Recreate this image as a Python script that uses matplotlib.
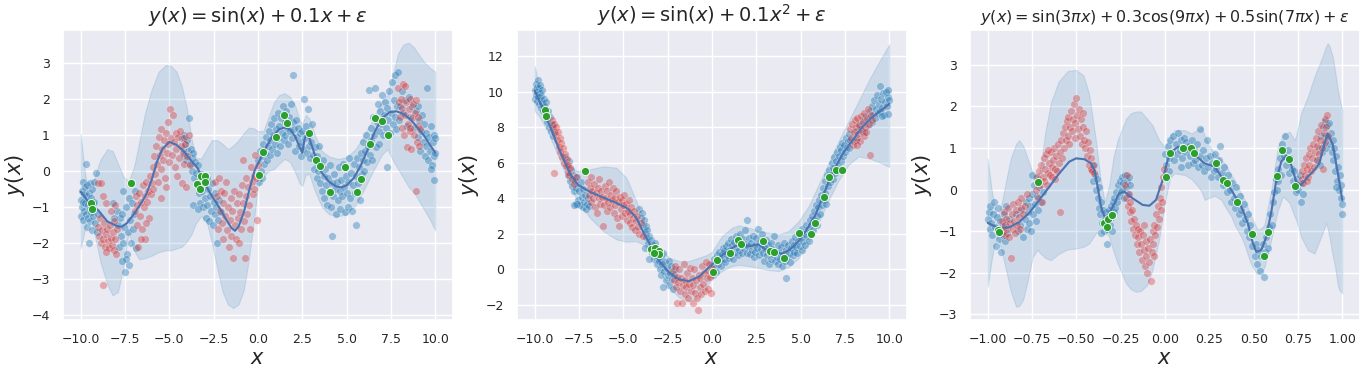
import numpy as np
import matplotlib
matplotlib.use("Agg")
import matplotlib.pyplot as plt
from matplotlib.ticker import MultipleLocator
import seaborn as sns

sns.set_theme(style="darkgrid")
plt.rcParams['font.family'] = ['DejaVu Sans']
plt.rcParams['mathtext.fontset'] = 'dejavusans'

# ---------------- Panel 1 : sin(x) + 0.1x ----------------
p1_title = r"$y(x) = \sin(x) + 0.1x + \epsilon$"
p1_mean = [(-10, -0.58), (-9.5, -0.9), (-9, -1.1), (-8.5, -1.4), (-8, -1.52), (-7.7, -1.55), (-7.4, -1.45),
           (-7.0, -1.2), (-6.6, -0.9), (-6.3, -0.65), (-6.0, -0.25), (-5.7, 0.25), (-5.4, 0.6), (-5.0, 0.8),
           (-4.6, 0.72), (-4.2, 0.55), (-3.8, 0.3), (-3.4, 0.07), (-3.0, -0.35), (-2.6, -0.7), (-2.2, -1.0),
           (-1.8, -1.35), (-1.5, -1.58), (-1.3, -1.66), (-1.1, -1.55), (-0.8, -1.15), (-0.5, -0.55), (-0.2, 0.0),
           (0.1, 0.3), (0.4, 0.6), (0.8, 0.95), (1.2, 1.15), (1.5, 1.2), (1.8, 1.15), (2.1, 0.95), (2.35, 0.65),
           (2.5, 0.5), (2.62, 0.85), (2.75, 1.08), (2.9, 0.9), (3.2, 0.45), (3.6, -0.05), (4.0, -0.3), (4.4, -0.43),
           (4.7, -0.46), (5.0, -0.4), (5.4, -0.2), (5.8, 0.15), (6.2, 0.6), (6.6, 1.1), (7.0, 1.45), (7.4, 1.62),
           (7.8, 1.65), (8.2, 1.58), (8.6, 1.42), (9.0, 1.2), (9.4, 0.95), (9.7, 0.72), (10, 0.5)]
p1_band = [(-10, -2.15, 1.02), (-9.8, -1.7, 0.1), (-9.6, -1.25, -0.55), (-9.45, -1.15, -0.75), (-9.2, -1.8, -0.15),
           (-8.9, -2.5, 0.3), (-8.5, -3.15, 0.6), (-8.2, -3.45, 0.55), (-7.9, -3.35, 0.2), (-7.6, -2.7, -0.15),
           (-7.3, -1.7, -0.3), (-7.0, -2.2, 0.1), (-6.7, -2.45, 0.8), (-6.4, -2.42, 1.55), (-6.0, -2.35, 2.25),
           (-5.6, -2.25, 2.75), (-5.2, -2.2, 2.93), (-4.9, -2.2, 2.9), (-4.6, -2.15, 2.75), (-4.3, -2.1, 2.35),
           (-4.0, -1.95, 1.7), (-3.75, -1.75, 0.9), (-3.5, -1.45, 0.35), (-3.2, -1.25, 0.35), (-2.9, -1.4, 0.6),
           (-2.6, -2.0, 0.85), (-2.3, -2.7, 0.85), (-2.0, -3.35, 0.75), (-1.7, -3.7, 0.6), (-1.4, -3.8, 0.7),
           (-1.1, -3.7, 0.85), (-0.8, -3.3, 1.05), (-0.5, -2.4, 1.2), (-0.25, -1.45, 1.18), (0.0, -0.45, 1.1),
           (0.3, -0.15, 1.1), (0.6, 0.0, 1.5), (0.9, 0.05, 1.9), (1.2, 0.2, 2.1), (1.5, 0.33, 2.15), (1.8, 0.25, 2.05),
           (2.1, -0.05, 1.8), (2.35, -0.35, 1.4), (2.5, -0.42, 1.3), (2.7, -0.1, 1.55), (2.9, -0.1, 1.45),
           (3.2, -0.55, 1.0), (3.6, -1.0, 0.55), (4.0, -1.2, 0.4), (4.5, -1.26, 0.33), (5.0, -1.2, 0.38),
           (5.5, -0.95, 0.6), (6.0, -0.5, 1.0), (6.5, 0.0, 1.45), (7.0, 0.45, 1.95), (7.3, 0.6, 2.1), (7.6, 0.3, 2.65),
           (7.9, 0.05, 3.25), (8.2, -0.2, 3.5), (8.5, -0.45, 3.55), (8.8, -0.6, 3.42), (9.1, -0.85, 3.2),
           (9.4, -1.1, 3.0), (9.7, -1.35, 2.85), (10, -1.65, 2.75)]
p1_blue = [(-10.0, -0.8), (-9.97, -1.25), (-9.95, -0.55), (-9.92, -1.0), (-9.9, -0.3), (-9.87, -0.85), (-9.85, -1.35),
           (-9.82, -0.65), (-9.8, -1.1), (-9.77, -0.45), (-9.75, -0.9), (-9.72, -1.2), (-9.7, 0.2), (-9.68, -0.7),
           (-9.65, -1.55), (-9.62, -0.4), (-9.6, -0.95), (-9.57, -1.3), (-9.55, -0.6), (-9.52, -2.0), (-9.5, -1.05),
           (-9.47, -0.35), (-9.45, -1.4), (-9.42, -0.75), (-9.4, -1.15), (-9.37, -0.5), (-9.35, -1.65), (-9.32, -0.9),
           (-9.3, -1.25), (-9.27, -0.3), (-9.25, -0.85), (-9.2, -1.45), (-9.15, -0.05), (-9.1, -1.7), (-9.05, -1.2),
           (-7.95, -1.1), (-7.9, -1.5), (-7.85, -2.1), (-7.8, -1.3), (-7.75, -1.8), (-7.7, -2.5), (-7.65, -1.2),
           (-7.6, -2.0), (-7.55, -1.55), (-7.5, -2.8), (-7.45, -1.0), (-7.4, -2.3), (-7.35, -1.7), (-7.3, -0.75),
           (-7.25, -2.6), (-7.2, -1.35), (-7.15, -2.0), (-7.1, -0.9), (-7.05, -1.6), (-7.0, -1.2), (-6.95, -0.55),
           (-6.9, -2.15), (-7.6, -0.55), (-7.45, -2.45), (-8.2, -0.9), (-8.1, -1.3),
           (-4.3, 0.9), (-4.25, 0.6), (-4.2, 1.0), (-4.15, 0.45), (-4.1, 0.75), (-4.05, 0.3), (-4.0, 0.85),
           (-3.95, 0.55), (-3.9, 1.45), (-3.85, 0.2), (-3.8, 0.6), (-3.75, 0.35), (-3.7, 0.0), (-3.65, 0.5),
           (-3.6, -0.2), (-3.55, 0.25), (-3.5, -0.05), (-3.45, -0.4), (-3.4, 0.15), (-3.35, -0.6), (-3.3, -0.3),
           (-3.25, -0.9), (-3.2, -0.1), (-3.15, -0.55), (-3.1, -1.0), (-3.05, -0.35), (-3.0, -0.75), (-2.95, -1.3),
           (-2.9, -0.2), (-2.85, -0.95), (-2.8, -0.5), (-2.75, -1.4), (-2.7, -0.7), (-2.65, -1.1), (-2.6, -0.35),
           (-2.55, -1.5), (-2.5, -0.85), (-2.45, -1.2), (-2.4, -0.6), (-2.35, -1.0), (-2.3, -2.0), (-2.25, -1.35),
           (-2.2, -0.8), (-2.1, -1.15), (-3.65, -0.95), (-3.4, -1.05),
           (0.0, 0.3), (0.05, -0.3), (0.1, 0.55), (0.15, 0.0), (0.2, 0.4), (0.25, -0.2), (0.3, 0.75), (0.35, 0.2),
           (0.4, 0.5), (0.45, 0.95), (0.5, 0.3), (0.55, 0.7), (0.6, 1.1), (0.65, 0.45), (0.7, 0.85), (0.75, 1.3),
           (0.8, 0.6), (0.85, 1.0), (0.9, 1.45), (0.95, 0.75), (1.0, 1.15), (1.05, 0.5), (1.1, 1.6), (1.15, 0.9),
           (1.2, 1.25), (1.25, 0.7), (1.3, 1.45), (1.35, 1.05), (1.4, 1.8), (1.45, 0.85), (1.5, 1.35), (1.55, 1.0),
           (1.6, 1.65), (1.65, 1.2), (1.7, 0.75), (1.75, 1.5), (1.8, 1.1), (1.85, 1.85), (1.9, 0.9), (1.95, 1.35),
           (2.0, 2.65), (2.05, 1.15), (2.1, 0.55), (2.15, 1.4), (2.2, 0.95), (2.25, 1.2), (2.3, 0.7), (2.35, 1.05),
           (2.4, 0.4), (2.45, 0.8), (2.5, 1.1), (2.55, 0.6), (2.6, 2.0), (2.65, 0.9), (2.7, 1.25), (2.75, 0.5),
           (2.8, 1.7), (2.85, 0.7), (2.9, 1.0), (2.95, 0.35), (3.0, 0.8), (3.05, 1.3), (3.1, 0.45), (3.15, 0.05),
           (3.2, 0.65), (3.25, 0.25), (3.3, -0.2), (3.35, 0.4), (3.4, 0.0), (3.45, 0.7), (3.5, -0.35), (3.55, 0.15),
           (3.6, -0.55), (3.65, 0.3), (3.7, -0.15), (3.75, -0.75), (3.8, 0.05), (3.85, -0.4), (3.9, -0.95),
           (3.95, -0.2), (4.0, -0.6), (4.05, 0.15), (4.1, -1.0), (4.15, -0.35), (4.2, -1.8), (4.25, -0.7), (4.3, -0.1),
           (4.35, -0.5), (4.4, -1.2), (4.45, -0.3), (4.5, -0.8), (4.55, 0.1), (4.6, -0.55), (4.65, -1.05),
           (4.7, -0.25), (4.75, -0.7), (4.8, 0.2), (4.85, -0.45), (4.9, -1.15), (4.95, -0.15), (5.0, -0.6),
           (5.05, -1.0), (5.1, -0.3), (5.15, 0.35), (5.2, -0.75), (5.25, -0.05), (5.3, -1.1), (5.35, -0.4), (5.4, 0.2),
           (5.45, -0.6), (5.5, -0.15), (5.55, -1.5), (5.6, 0.35), (5.65, -0.35), (5.7, 0.1), (5.75, -0.8), (5.8, 0.5),
           (5.85, -0.1), (5.9, 0.3), (5.95, 0.8), (6.0, 0.0), (6.05, 0.55), (6.1, 1.0), (6.15, 0.25), (6.2, 0.7),
           (6.25, 2.25), (6.3, 0.45), (6.35, 1.2), (6.4, 0.85), (6.45, 0.3), (6.5, 1.5), (6.55, 1.0), (6.6, 2.3),
           (6.65, 0.65), (6.7, 1.35), (6.75, 1.85), (6.8, 1.1), (6.85, 0.75), (6.9, 1.65), (6.95, 1.3), (7.0, 2.1),
           (7.05, 1.0), (7.1, 1.55), (7.15, 1.9), (7.2, 1.2), (7.25, 0.1), (7.3, 1.75), (7.35, 1.4), (7.4, 2.2),
           (7.45, 1.05), (7.5, 1.6), (7.55, 2.45), (7.6, 1.3), (7.65, 1.95), (7.7, 1.5), (7.75, 2.65), (7.8, 1.15),
           (7.85, 1.8), (7.9, 2.75), (7.95, 1.4),
           (8.0, 1.8), (8.1, 2.2), (8.2, 1.6), (8.3, 1.95), (8.4, 1.25), (8.5, 2.05), (8.6, 1.5), (8.7, 1.8),
           (8.8, 1.2), (8.9, 1.65), (9.0, 0.95), (9.05, 1.8), (9.1, 1.4), (9.15, 0.55), (9.2, 1.1), (9.25, 1.55),
           (9.3, 0.8), (9.35, 1.3), (9.4, 0.4), (9.45, 1.05), (9.5, 0.7), (9.55, 2.3), (9.6, 0.3), (9.65, 0.95),
           (9.7, 0.55), (9.75, 1.25), (9.8, 0.15), (9.85, 0.8), (9.9, 0.4), (9.95, 1.0), (10.0, 0.5), (9.92, -0.25),
           (9.78, 0.05), (9.98, 0.9)]
p1_red = [(-9.05, -0.35), (-9.0, -1.55), (-8.95, -1.8), (-8.9, -1.3), (-8.85, -2.0), (-8.8, -1.65), (-8.75, -3.15),
          (-8.72, -1.9), (-8.7, -1.45), (-8.65, -2.1), (-8.6, -1.75), (-8.55, -2.25), (-8.5, -1.6), (-8.45, -1.95),
          (-8.4, -2.15), (-8.35, -1.5), (-8.3, -1.85), (-8.25, -2.05), (-8.2, -1.7), (-8.15, -2.2), (-8.1, -1.4),
          (-8.05, -1.9), (-8.0, -2.3), (-7.95, -1.6), (-8.6, -0.9), (-8.3, -1.1), (-8.05, -0.95), (-8.88, -0.34),
          (-8.76, -0.7),
          (-6.95, -1.1), (-6.9, -0.7), (-6.85, -1.5), (-6.8, -0.95), (-6.75, -2.1), (-6.7, -0.6), (-6.65, -1.25),
          (-6.6, -0.85), (-6.55, -1.6), (-6.5, -0.4), (-6.45, -1.0), (-6.4, -0.7), (-6.35, -1.9), (-6.3, -0.3),
          (-6.25, -0.85), (-6.2, -0.55), (-6.15, -1.3), (-6.1, -0.15), (-6.05, -0.65), (-6.0, -0.35), (-6.6, -1.9),
          (-6.3, -1.45), (-5.95, 0.1), (-5.9, -0.5), (-5.85, 0.4), (-5.8, -0.1), (-5.75, 0.7), (-5.7, 0.2),
          (-5.65, -0.3), (-5.6, 0.95), (-5.55, 0.45), (-5.5, 0.05), (-5.45, 1.15), (-5.4, 0.6), (-5.35, 0.3),
          (-5.3, 0.85), (-5.25, -0.2), (-5.2, 1.05), (-5.15, 0.5), (-5.1, 0.75), (-5.05, 1.35), (-5.0, 0.25),
          (-5.5, -0.75), (-5.2, -0.45), (-4.95, 1.7), (-4.9, 0.9), (-4.85, 0.45), (-4.8, 1.55), (-4.75, 0.8),
          (-4.7, 0.1), (-4.65, 1.05), (-4.6, 0.6), (-4.55, -0.15), (-4.5, 0.95), (-4.45, 0.35), (-4.4, 1.1),
          (-4.35, 0.7), (-4.3, -0.35), (-4.25, 0.5), (-4.2, 0.9), (-4.15, 0.2), (-4.1, 0.75), (-4.05, -0.45),
          (-4.0, 0.4), (-3.9, 1.0), (-3.85, 0.15),
          (-2.4, -0.3), (-2.3, -0.7), (-2.25, -1.6), (-2.2, -0.2), (-2.15, -1.1), (-2.1, -0.55), (-2.05, -1.45),
          (-2.0, -0.9), (-1.95, -1.9), (-1.9, -0.6), (-1.85, -1.25), (-1.8, -0.3), (-1.75, -1.65), (-1.7, -1.0),
          (-1.65, -2.1), (-1.6, -1.35), (-1.55, -0.75), (-1.5, -1.8), (-1.45, -1.1), (-1.4, -2.4), (-1.35, -0.55),
          (-1.3, -1.5), (-1.25, -1.9), (-1.2, -0.9), (-1.15, -1.3), (-1.1, -2.0), (-1.05, -0.65), (-1.0, -1.15),
          (-0.95, -1.6), (-0.9, -0.4), (-0.85, -0.9), (-0.8, -1.4), (-0.75, -2.4), (-0.7, -0.2), (-0.65, -0.7),
          (-0.6, -1.2), (-0.55, -0.45), (-0.5, -0.95), (-0.45, -1.6), (-0.4, 0.1), (-0.35, -0.3), (-0.3, -0.65),
          (-0.25, -0.15), (-0.2, -0.5), (-0.15, 0.45), (-0.1, -0.2), (-0.05, -1.35), (-0.02, 0.15), (-0.85, 0.3),
          (7.9, 2.3), (7.95, 1.9), (8.0, 1.5), (8.05, 2.0), (8.1, 1.2), (8.15, 1.75), (8.2, 2.4), (8.25, 1.0),
          (8.3, 1.55), (8.35, 1.9), (8.4, 0.65), (8.45, 1.3), (8.5, 1.7), (8.55, 1.1), (8.6, 2.0), (8.65, 0.6),
          (8.7, 1.45), (8.75, 1.85), (8.8, 1.0), (8.85, 1.6), (8.9, 1.95), (8.95, 0.8), (9.0, 1.25), (9.05, 1.5),
          (9.1, 0.7), (9.15, 1.15), (8.9, -0.55), (8.3, 2.35), (8.6, 1.2)]

# training points (shared x in panels 1 and 2, x/10 in panel 3)
train_x = [-9.44, -9.34, -7.18, -3.43, -3.24, -3.01, -2.98, -3.28, 0.05, 0.29, 0.99, 1.49, 1.61, 2.85, 3.26,
           3.48, 4.05, 4.93, 5.59, 5.83, 6.30, 6.62, 7.01, 7.31]
p1_train_y = [-0.88, -1.05, -0.35, -0.36, -0.15, -0.15, -0.30, -0.49, -0.12, 0.53, 0.94, 1.56, 1.33, 1.05, 0.29,
              0.13, -0.59, 0.10, -0.58, -0.22, 0.75, 1.45, 1.37, 0.98]

# ---------------- Panel 2 : sin(x) + 0.1x^2 ----------------
p2_title = r"$y(x) = \sin(x) + 0.1x^2 + \epsilon$"
p2_mean = [(-10, 10.07), (-9.5, 8.9), (-9.1, 7.95), (-8.6, 6.7), (-8.0, 5.35), (-7.55, 4.75), (-6.9, 4.37),
           (-6.1, 4.03), (-5.4, 3.75), (-4.8, 3.45), (-4.3, 2.95), (-3.9, 2.16), (-3.5, 1.4), (-3.0, 0.5),
           (-2.4, -0.19), (-1.85, -0.56), (-1.3, -0.66), (-0.7, -0.38), (-0.25, 0.05), (0.25, 0.5), (0.75, 0.94),
           (1.3, 1.31), (1.7, 1.44), (2.1, 1.3), (2.6, 1.41), (3.0, 1.15), (3.55, 0.99), (3.95, 0.88), (4.4, 1.12),
           (4.9, 1.6), (5.35, 2.25), (5.85, 3.1), (6.3, 4.22), (6.8, 5.44), (7.35, 6.47), (7.9, 7.22), (8.45, 7.97),
           (9.0, 8.54), (9.5, 8.91), (10, 9.3)]
p2_band = [(-10, 8.91, 11.44), (-9.7, 8.54, 10.04), (-9.3, 7.79, 8.72), (-8.76, 6.57, 7.22), (-8.2, 5.16, 6.1),
           (-7.64, 3.94, 5.53), (-6.89, 2.91, 5.63), (-6.14, 2.16, 5.8), (-5.39, 1.69, 5.72), (-4.83, 1.56, 5.16),
           (-4.27, 1.59, 3.85), (-3.9, 1.41, 2.91), (-3.52, 1.03, 1.78), (-2.96, -0.09, 1.22), (-2.4, -1.03, 0.66),
           (-1.84, -1.59, 0.47), (-1.3, -1.78, 0.47), (-0.75, -1.59, 0.66), (-0.3, -1.03, 0.81), (0.0, -0.45, 1.0),
           (0.56, -0.09, 1.88), (1.13, 0.19, 2.35), (1.5, 0.26, 2.48), (2.07, 0.19, 2.35), (2.63, 0.08, 2.16),
           (3.2, -0.03, 2.06), (3.76, -0.09, 1.97), (4.32, 0.12, 2.16), (4.89, 0.65, 2.72), (5.45, 1.5, 3.56),
           (6.02, 2.65, 4.78), (6.58, 3.9, 6.0), (7.14, 5.0, 7.22), (7.71, 5.9, 8.35), (8.27, 6.35, 9.47),
           (8.83, 6.25, 10.6), (9.4, 6.05, 11.63), (10, 5.76, 12.66)]
p2_blue = [(-10.0, 10.1), (-9.97, 9.6), (-9.95, 10.4), (-9.92, 9.8), (-9.9, 10.25), (-9.87, 9.45), (-9.85, 10.0),
           (-9.82, 10.65), (-9.8, 9.7), (-9.77, 10.2), (-9.75, 9.3), (-9.72, 9.9), (-9.7, 10.35), (-9.67, 9.5),
           (-9.65, 9.1), (-9.62, 9.75), (-9.6, 10.1), (-9.57, 9.35), (-9.55, 8.9), (-9.5, 9.6), (-9.45, 9.2),
           (-9.4, 8.6), (-9.35, 9.4), (-9.3, 8.3), (-9.25, 8.9), (-9.2, 8.0), (-9.15, 8.55), (-9.1, 7.8),
           (-9.05, 8.2), (-9.0, 8.1), (-8.95, 7.5), (-8.9, 7.7),
           (-8.3, 6.3), (-8.2, 5.8), (-8.1, 5.3), (-8.05, 6.1), (-8.0, 5.0), (-7.95, 5.6), (-7.9, 4.7), (-7.85, 5.3),
           (-7.8, 4.4), (-7.75, 5.0), (-7.7, 3.7), (-7.65, 4.6), (-7.6, 5.2), (-7.55, 3.9), (-7.5, 4.4), (-7.45, 3.6),
           (-7.4, 4.9), (-7.35, 4.1), (-7.3, 3.5), (-7.25, 4.5), (-7.2, 3.8), (-7.15, 4.2), (-7.1, 3.4), (-7.05, 3.7),
           (-7.0, 4.0), (-6.95, 3.55), (-7.6, 3.7), (-7.8, 3.6),
           (-4.1, 3.4), (-4.0, 2.9), (-3.95, 3.2), (-3.9, 2.5), (-3.85, 2.8), (-3.8, 2.1), (-3.75, 2.45), (-3.7, 1.8),
           (-3.65, 2.2), (-3.6, 1.5), (-3.55, 1.9), (-3.5, 1.2), (-3.45, 1.65), (-3.4, 0.9), (-3.35, 1.4), (-3.3, 0.6),
           (-3.25, 1.1), (-3.2, 1.5), (-3.15, 0.8), (-3.1, 0.3), (-3.05, 1.0), (-3.0, 0.5), (-2.95, 0.0), (-2.9, 0.7),
           (-2.85, -0.3), (-2.8, 0.3), (-2.75, 0.9), (-2.7, -0.1), (-2.65, 0.4), (-2.6, -0.6), (-2.55, 0.1),
           (-2.5, -0.3), (-2.45, 0.5), (-2.4, -0.9), (-2.35, -0.2), (-2.3, 0.2), (-2.25, -0.55), (-2.2, -1.1),
           (-2.15, -0.3), (-2.1, 0.0), (-3.55, 0.6), (-3.8, 1.2), (-2.75, -1.0),
           (0.0, 0.3), (0.05, -0.3), (0.1, 0.6), (0.15, 0.1), (0.2, 0.45), (0.25, -0.15), (0.3, 0.8), (0.35, 0.3),
           (0.4, 1.0), (0.45, 0.55), (0.5, 0.2), (0.55, 0.85), (0.6, 1.2), (0.65, 0.6), (0.7, 1.05), (0.75, 0.4),
           (0.8, 1.3), (0.85, 0.8), (0.9, 1.5), (0.95, 0.65), (1.0, 1.1), (1.05, 1.7), (1.1, 0.85), (1.15, 1.35),
           (1.2, 0.6), (1.25, 1.55), (1.3, 1.0), (1.35, 1.9), (1.4, 1.25), (1.45, 0.8), (1.5, 1.6), (1.55, 1.1),
           (1.6, 2.0), (1.65, 1.35), (1.7, 0.9), (1.75, 1.7), (1.8, 1.2), (1.85, 2.2), (1.9, 1.45), (1.95, 0.95),
           (2.0, 2.8), (2.05, 1.3), (2.1, 1.75), (2.15, 0.85), (2.2, 1.5), (2.25, 1.1), (2.3, 1.9), (2.35, 0.7),
           (2.4, 1.4), (2.45, 1.0), (2.5, 1.75), (2.55, 1.2), (2.6, 2.3), (2.65, 0.8), (2.7, 1.55), (2.75, 1.15),
           (2.8, 2.0), (2.85, 0.95), (2.9, 1.4), (2.95, 0.5), (3.0, 1.2), (3.05, 1.65), (3.1, 0.8), (3.15, 1.35),
           (3.2, 0.3), (3.25, 1.0), (3.3, 1.5), (3.35, 0.6), (3.4, 1.15), (3.45, 0.85), (3.5, 1.9), (3.55, 0.45),
           (3.6, 1.05), (3.65, 0.7), (3.7, 1.4), (3.75, 0.3), (3.8, 0.95), (3.85, 0.6), (3.9, 1.25), (3.95, 0.2),
           (4.0, 0.85), (4.05, 1.5), (4.1, 0.5), (4.15, -0.5), (4.2, 1.1), (4.25, 0.7), (4.3, 1.35), (4.35, 0.9),
           (4.4, 0.4), (4.45, 1.2), (4.5, 1.6), (4.55, 0.8), (4.6, 1.4), (4.65, 1.0), (4.7, 1.8), (4.75, 1.25),
           (4.8, 0.9), (4.85, 1.6), (4.9, 2.1), (4.95, 1.3), (5.0, 1.8), (5.05, 1.1), (5.1, 2.3), (5.15, 1.6),
           (5.2, 2.0), (5.25, 1.4), (5.3, 2.5), (5.35, 1.9), (5.4, 2.25), (5.45, 1.6), (5.5, 2.8), (5.55, 2.1),
           (5.6, 2.5), (5.65, 3.0), (5.7, 2.2), (5.75, 3.3), (5.8, 2.7), (5.85, 3.6), (5.9, 3.0), (5.95, 2.5),
           (6.0, 3.5), (6.05, 3.9), (6.1, 3.1), (6.15, 4.2), (6.2, 3.6), (6.25, 4.6), (6.3, 3.9), (6.35, 5.0),
           (6.4, 4.3), (6.45, 3.7), (6.5, 5.3), (6.55, 4.7), (6.6, 5.6), (6.65, 4.9), (6.7, 5.3), (6.75, 6.0),
           (6.8, 5.1), (6.85, 5.7), (6.9, 6.3), (6.95, 5.4), (7.0, 6.1), (7.05, 6.6), (7.1, 5.8), (7.15, 6.4),
           (7.2, 6.9), (7.25, 6.1), (7.3, 6.7), (7.35, 7.1), (7.4, 6.4), (7.45, 7.0), (7.5, 6.6), (7.55, 7.4),
           (7.6, 6.9), (7.65, 7.2), (7.7, 7.6), (7.75, 6.8), (7.8, 7.3),
           (8.0, 7.2), (8.1, 7.8), (8.2, 7.4), (8.3, 8.2), (8.4, 7.9), (8.5, 8.4), (8.6, 7.7), (8.7, 8.6), (8.8, 8.1),
           (8.9, 8.9), (9.0, 8.3), (9.05, 9.2), (9.1, 8.7), (9.15, 9.5), (9.2, 8.5), (9.25, 9.0), (9.3, 9.8),
           (9.35, 8.8), (9.4, 9.3), (9.45, 10.3), (9.5, 8.9), (9.55, 9.6), (9.6, 9.1), (9.65, 9.9), (9.7, 8.7),
           (9.75, 9.4), (9.8, 10.0), (9.85, 9.2), (9.9, 9.7), (9.95, 8.75), (10.0, 9.5), (9.92, 10.1), (9.6, 8.6)]
p2_red = [(-9.0, 8.4), (-8.95, 7.9), (-8.9, 8.2), (-8.85, 7.6), (-8.8, 8.0), (-8.75, 7.3), (-8.7, 7.7), (-8.65, 6.9),
          (-8.6, 7.4), (-8.55, 6.6), (-8.5, 7.1), (-8.45, 6.3), (-8.4, 6.8), (-8.35, 6.0), (-8.3, 6.5), (-8.25, 5.8),
          (-8.2, 6.2), (-8.15, 5.5), (-8.1, 5.9), (-8.05, 5.3), (-8.0, 5.7), (-7.9, 5.1), (-7.8, 4.8), (-7.7, 5.2),
          (-8.9, 5.4),
          (-7.0, 4.9), (-6.95, 4.2), (-6.9, 4.6), (-6.85, 3.8), (-6.8, 5.2), (-6.75, 4.4), (-6.7, 4.0), (-6.65, 4.8),
          (-6.6, 3.5), (-6.55, 4.3), (-6.5, 3.2), (-6.45, 4.6), (-6.4, 4.0), (-6.35, 5.1), (-6.3, 3.7), (-6.25, 4.4),
          (-6.2, 4.1), (-6.15, 2.45), (-6.1, 3.6), (-6.05, 4.7), (-6.0, 4.0), (-5.95, 3.3), (-5.9, 4.4), (-5.85, 3.8),
          (-5.8, 4.9), (-5.75, 3.5), (-5.7, 4.2), (-5.65, 3.9), (-5.6, 4.6), (-5.55, 3.2), (-5.5, 4.0), (-5.45, 3.6),
          (-5.4, 4.4), (-5.35, 2.9), (-5.3, 3.8), (-5.25, 2.45), (-5.2, 4.1), (-5.15, 3.4), (-5.1, 3.9), (-5.05, 3.0),
          (-5.0, 3.6), (-4.95, 4.2), (-4.9, 3.2), (-4.85, 3.7), (-4.8, 2.8), (-4.75, 3.3), (-4.7, 3.9), (-4.65, 2.6),
          (-4.6, 3.1), (-4.55, 3.5), (-4.5, 2.4), (-4.45, 2.9), (-4.4, 3.3), (-4.35, 2.2), (-4.3, 2.7), (-4.25, 3.0),
          (-4.2, 2.4), (-4.1, 2.0), (-4.0, 2.6), (-3.9, 1.9),
          (-2.2, -0.1), (-2.15, -0.6), (-2.1, 0.2), (-2.05, -1.0), (-2.0, -0.4), (-1.95, -1.9), (-1.9, -0.7),
          (-1.85, 0.0), (-1.8, -1.2), (-1.75, -0.5), (-1.7, -1.9), (-1.65, -0.9), (-1.6, 0.3), (-1.55, -1.4),
          (-1.5, -0.6), (-1.45, -1.0), (-1.4, -0.2), (-1.35, -1.6), (-1.3, -0.8), (-1.25, 0.1), (-1.2, -1.2),
          (-1.15, -0.5), (-1.1, -1.9), (-1.05, -0.9), (-1.0, 0.0), (-0.95, -1.3), (-0.9, -0.6), (-0.85, -1.6),
          (-0.8, -2.25), (-0.75, -0.3), (-0.7, -1.0), (-0.65, -0.5), (-0.6, -1.4), (-0.55, 0.2), (-0.5, -0.8),
          (-0.45, -0.2), (-0.4, -1.2), (-0.35, 0.4), (-0.3, -0.5), (-0.25, -0.1), (-0.2, -1.1), (-0.15, 0.3),
          (-0.1, -0.4), (-0.05, -1.3), (-0.02, 0.1),
          (7.8, 7.9), (7.85, 7.4), (7.9, 8.2), (7.95, 7.0), (8.0, 7.7), (8.05, 8.4), (8.1, 7.3), (8.15, 8.0),
          (8.2, 8.5), (8.25, 7.6), (8.3, 8.1), (8.35, 7.2), (8.4, 8.6), (8.45, 7.8), (8.5, 8.3), (8.55, 7.5),
          (8.6, 8.8), (8.65, 8.0), (8.7, 7.7), (8.75, 8.5), (8.8, 9.0), (8.85, 8.2), (8.9, 6.45), (8.95, 8.7),
          (9.0, 8.4), (8.2, 7.0)]
p2_train_y = [8.97, 8.61, 5.53, 1.16, 1.22, 1.06, 0.89, 0.91, -0.12, 0.51, 0.94, 1.63, 1.43, 1.58, 1.03, 0.99,
              0.65, 2.04, 1.99, 2.60, 4.09, 5.17, 5.58, 5.59]

# ---------------- Panel 3 : sin(3 pi x) + ... ----------------
p3_title = r"$y(x) = \sin(3\pi x) + 0.3\cos(9\pi x) + 0.5\sin(7\pi x) + \epsilon$"
p3_mean = [(-1.0, -0.8), (-0.934, -0.94), (-0.878, -0.91), (-0.822, -0.78), (-0.765, -0.56), (-0.709, -0.25),
           (-0.652, 0.07), (-0.596, 0.39), (-0.54, 0.67), (-0.502, 0.75), (-0.455, 0.73), (-0.417, 0.63),
           (-0.398, 0.47), (-0.38, 0.07), (-0.361, -0.41), (-0.342, -0.65), (-0.323, -0.65), (-0.295, -0.41),
           (-0.258, -0.09), (-0.23, -0.05), (-0.183, -0.21), (-0.126, -0.37), (-0.088, -0.39), (-0.051, -0.25),
           (-0.013, 0.23), (0.015, 0.71), (0.037, 0.91), (0.074, 1.03), (0.112, 0.99), (0.168, 0.83), (0.224, 0.63),
           (0.281, 0.55), (0.318, 0.31), (0.374, -0.01), (0.43, -0.41), (0.468, -0.82), (0.496, -1.3), (0.515, -1.5),
           (0.543, -1.46), (0.571, -1.14), (0.6, -0.53), (0.628, 0.23), (0.656, 0.67), (0.684, 0.81), (0.712, 0.59),
           (0.74, 0.19), (0.768, 0.11), (0.806, 0.31), (0.843, 0.47), (0.871, 0.63), (0.9, 1.11), (0.918, 1.35),
           (0.947, 1.07), (0.975, 0.39), (1.0, -0.25)]
p3_band = [(-1.0, -2.34, 0.75), (-0.98, -1.75, 0.05), (-0.96, -1.3, -0.45), (-0.944, -1.14, -0.7), (-0.92, -1.5, -0.3),
           (-0.897, -1.94, 0.2), (-0.87, -2.45, 0.75), (-0.84, -2.82, 1.1), (-0.822, -2.8, 1.19), (-0.8, -2.65, 1.05),
           (-0.775, -2.2, 0.75), (-0.746, -1.62, 0.4), (-0.72, -1.45, 0.2), (-0.7, -1.55, 0.6), (-0.675, -1.65, 1.4),
           (-0.643, -1.70, 2.1), (-0.6, -1.55, 2.6), (-0.55, -1.44, 2.85), (-0.503, -1.42, 2.88), (-0.46, -1.38, 2.75),
           (-0.428, -1.30, 2.3), (-0.39, -1.05, 1.19), (-0.365, -0.95, 0.3), (-0.34, -0.95, -0.3), (-0.315, -1.14, 0.1),
           (-0.29, -1.5, 0.8), (-0.267, -1.78, 1.19), (-0.22, -2.26, 1.7), (-0.192, -2.4, 1.84), (-0.164, -2.46, 1.88),
           (-0.136, -2.44, 1.88), (-0.1, -2.3, 1.7), (-0.071, -1.94, 1.55), (-0.034, -1.22, 1.2), (0.0, -0.3, 1.0),
           (0.03, 0.3, 1.3), (0.055, 0.39, 1.43), (0.112, 0.35, 1.43), (0.15, 0.25, 1.35), (0.187, 0.07, 1.45),
           (0.206, -0.05, 1.51), (0.224, -0.25, 1.3), (0.25, -0.2, 1.05), (0.281, -0.15, 0.87), (0.318, -0.25, 0.7),
           (0.337, -0.4, 0.63), (0.374, -0.65, 0.35), (0.393, -0.85, 0.23), (0.43, -1.14, -0.1), (0.45, -1.35, -0.25),
           (0.477, -1.7, -0.55), (0.487, -1.8, -0.65), (0.515, -2.02, -0.9), (0.525, -2.02, -0.98),
           (0.552, -1.94, -0.9), (0.562, -1.85, -0.82), (0.59, -1.38, -0.2), (0.6, -1.2, -0.01), (0.628, -0.65, 0.8),
           (0.637, -0.5, 1.03), (0.665, -0.17, 1.3), (0.675, -0.2, 1.35), (0.703, -0.33, 1.39), (0.731, -0.65, 1.19),
           (0.74, -0.73, 1.3), (0.768, -1.14, 1.84), (0.806, -1.46, 2.24), (0.843, -1.54, 2.72), (0.881, -1.14, 3.12),
           (0.909, -0.81, 3.45), (0.918, -0.95, 3.52), (0.928, -1.14, 3.45), (0.946, -1.6, 3.2), (0.956, -1.78, 2.95),
           (0.975, -2.3, 2.4), (0.984, -2.42, 2.2), (1.0, -2.5, 1.92)]
p3_blue = [(-1.0, -0.7), (-0.995, -0.55), (-0.99, -0.95), (-0.985, -0.4), (-0.98, -0.8), (-0.975, -1.1), (-0.97, -0.6),
           (-0.965, -0.3), (-0.96, -0.9), (-0.955, -1.35), (-0.95, -0.65), (-0.945, -1.0), (-0.94, -0.45),
           (-0.935, -1.2), (-0.93, -0.75), (-0.925, -1.5), (-0.92, -0.9), (-0.915, -1.1), (-0.91, -0.6),
           (-0.905, -1.25), (-0.9, -0.85), (-0.895, -0.4), (-0.89, -1.05), (-0.88, -0.7),
           (-0.82, -0.85), (-0.81, -0.5), (-0.8, -1.15), (-0.79, -0.7), (-0.785, -0.3), (-0.78, -0.95), (-0.775, -0.55),
           (-0.77, -0.2), (-0.765, -0.8), (-0.76, -0.4), (-0.755, -1.0), (-0.75, -0.1), (-0.745, -0.6), (-0.74, 0.1),
           (-0.735, -0.35), (-0.73, -0.75), (-0.725, 0.3), (-0.72, -0.15), (-0.715, -0.5), (-0.71, 0.05), (-0.7, -0.3),
           (-0.69, -0.05), (-0.83, -1.0), (-0.84, -0.6), (-0.75, 0.35),
           (-0.41, 0.5), (-0.405, 0.2), (-0.4, 0.6), (-0.395, 0.35), (-0.39, 0.0), (-0.385, 0.25), (-0.38, -0.2),
           (-0.375, -0.45), (-0.37, 0.05), (-0.365, -0.6), (-0.36, -0.3), (-0.355, -0.8), (-0.35, -0.5),
           (-0.345, -1.0), (-0.34, -0.7), (-0.335, -0.55), (-0.33, -0.95), (-0.325, -1.3), (-0.32, -0.75),
           (-0.315, -0.5), (-0.31, -0.85), (-0.305, -0.4), (-0.3, -0.65), (-0.295, -0.3), (-0.29, -0.55),
           (-0.285, -0.2), (-0.28, -0.45), (-0.275, -0.05), (-0.27, -0.3), (-0.265, 0.1), (-0.26, -0.15), (-0.255, 0.2),
           (-0.25, -0.05), (-0.245, 0.3), (-0.24, 0.0), (-0.235, 0.15), (-0.23, -0.2), (-0.225, 0.35), (-0.22, 0.05),
           (-0.215, 0.2), (-0.21, -0.1), (-0.205, 0.3), (-0.2, 0.1), (-0.36, -1.05), (-0.3, -1.0),
           (0.0, 0.85), (0.008, 0.6), (0.015, 1.05), (0.022, 0.75), (0.03, 1.2), (0.037, 0.9), (0.045, 1.3),
           (0.052, 0.7), (0.06, 1.1), (0.067, 0.85), (0.075, 1.35), (0.082, 0.95), (0.09, 1.2), (0.097, 0.75),
           (0.105, 1.25), (0.112, 0.9), (0.12, 1.15), (0.127, 0.6), (0.135, 1.05), (0.142, 0.8), (0.15, 1.2),
           (0.157, 0.65), (0.165, 0.95), (0.172, 0.7), (0.18, 1.1), (0.187, 0.55), (0.195, 1.45), (0.2, 0.8),
           (0.207, 0.6), (0.215, 0.95), (0.222, 0.45), (0.23, 0.75), (0.237, 1.2), (0.245, 0.55), (0.252, 0.8),
           (0.26, 0.3), (0.267, 0.65), (0.275, 0.45), (0.282, 0.85), (0.29, 0.5), (0.297, 0.3), (0.305, 0.7),
           (0.312, 1.05), (0.32, 0.4), (0.327, 0.1), (0.335, 0.55), (0.342, 0.2), (0.35, -0.05), (0.357, 0.35),
           (0.365, 0.0), (0.372, -0.3), (0.38, 0.15), (0.387, -0.2), (0.395, -0.45), (0.4, 0.05), (0.407, -0.3),
           (0.415, -0.6), (0.422, -0.15), (0.43, -0.5), (0.437, -0.8), (0.445, -0.35), (0.452, -0.7), (0.46, -1.0),
           (0.467, -0.6), (0.475, -1.15), (0.482, -0.85), (0.49, -1.35), (0.497, -1.1), (0.505, -1.6), (0.512, -1.3),
           (0.52, -1.8), (0.527, -1.45), (0.535, -1.95), (0.542, -1.6), (0.55, -1.3), (0.557, -2.1), (0.565, -1.5),
           (0.572, -1.15), (0.58, -1.4), (0.587, -0.9), (0.595, -0.6), (0.602, -0.85), (0.61, -0.3), (0.617, -0.05),
           (0.625, 0.25), (0.632, 0.0), (0.64, 0.5), (0.647, 0.75), (0.655, 0.35), (0.662, 1.1), (0.67, 0.8),
           (0.677, 1.3), (0.685, 0.6), (0.692, 0.95), (0.7, 0.4), (0.707, 0.75), (0.715, 0.5), (0.722, 0.2),
           (0.73, 0.45), (0.737, -0.05), (0.745, 0.25), (0.752, 0.0), (0.76, 0.35), (0.767, -0.3), (0.775, 0.15),
           (0.78, -0.1), (0.64, 0.2), (0.025, 0.45), (0.09, 0.55),
           (0.86, 0.7), (0.87, 1.0), (0.875, 0.6), (0.88, 1.3), (0.885, 0.9), (0.89, 1.5), (0.895, 1.1), (0.9, 1.65),
           (0.905, 1.3), (0.91, 1.0), (0.915, 1.55), (0.92, 1.25), (0.925, 1.6), (0.93, 1.1), (0.935, 1.35),
           (0.94, 0.9), (0.945, 1.2), (0.95, 0.7), (0.955, 1.0), (0.96, 0.45), (0.965, 0.8), (0.97, 0.2), (0.975, 0.55),
           (0.98, 0.0), (0.985, 0.35), (0.99, -0.2), (0.995, 0.1), (1.0, -0.35), (0.998, -0.6), (0.965, 0.05)]
p3_red = [(-0.92, -0.75), (-0.915, -1.0), (-0.91, -0.55), (-0.905, -0.85), (-0.9, -1.1), (-0.895, -0.7), (-0.89, -0.95),
          (-0.885, -0.45), (-0.88, -1.15), (-0.875, -0.8), (-0.87, -1.65), (-0.865, -0.6), (-0.86, -0.95),
          (-0.855, -0.35), (-0.85, -0.75), (-0.845, -1.05), (-0.84, -0.5), (-0.835, -0.85), (-0.83, -0.3),
          (-0.825, -0.65), (-0.82, -0.95), (-0.815, -0.45), (-0.81, -0.2), (-0.8, -0.6), (-0.79, -0.4), (-0.78, -0.1),
          (-0.73, 0.0), (-0.72, 0.3), (-0.715, -0.2), (-0.71, 0.45), (-0.705, 0.1), (-0.7, 0.6), (-0.695, -0.3),
          (-0.69, 0.3), (-0.685, 0.75), (-0.68, 0.2), (-0.675, 0.5), (-0.67, 0.85), (-0.665, 0.1), (-0.66, 0.4),
          (-0.655, 0.65), (-0.65, 0.35), (-0.645, 0.9), (-0.64, 0.55), (-0.635, 0.3), (-0.63, 0.7), (-0.625, 1.0),
          (-0.62, 0.5), (-0.615, 0.8), (-0.61, 0.45), (-0.605, 1.1), (-0.6, 0.65), (-0.595, -0.55), (-0.59, 0.9),
          (-0.585, 1.2), (-0.58, 0.75), (-0.575, 1.35), (-0.57, 1.0), (-0.565, 1.5), (-0.56, 1.2), (-0.555, 1.65),
          (-0.55, 1.3), (-0.545, 1.75), (-0.54, 1.1), (-0.535, 1.5), (-0.53, 1.9), (-0.525, 1.4), (-0.52, 1.7),
          (-0.515, 2.05), (-0.51, 1.25), (-0.505, 1.6), (-0.5, 2.2), (-0.495, 1.8), (-0.49, 1.45), (-0.485, 1.95),
          (-0.48, 1.3), (-0.475, 1.7), (-0.47, 1.1), (-0.465, 1.5), (-0.46, 1.85), (-0.455, 1.2), (-0.45, 1.0),
          (-0.445, 1.4), (-0.44, 0.8), (-0.435, 1.15), (-0.43, 0.6), (-0.425, 0.95), (-0.42, 0.5), (-0.415, 0.75),
          (-0.41, 0.45), (-0.405, 0.6), (-0.4, 0.4), (-0.62, 0.25), (-0.66, 0.95),
          (-0.225, 0.1), (-0.22, -0.2), (-0.215, 0.35), (-0.21, -0.4), (-0.205, -0.1), (-0.2, -0.55), (-0.195, -0.3),
          (-0.19, -0.75), (-0.185, -0.5), (-0.18, -0.95), (-0.175, -0.7), (-0.17, -1.1), (-0.165, -0.85),
          (-0.16, -1.3), (-0.155, -0.95), (-0.15, -1.15), (-0.145, -1.5), (-0.14, -1.0), (-0.135, -1.3),
          (-0.13, -1.7), (-0.125, -1.1), (-0.12, -1.45), (-0.115, -1.85), (-0.11, -1.25), (-0.105, -1.6),
          (-0.1, -2.0), (-0.095, -1.4), (-0.09, -1.75), (-0.085, -1.2), (-0.08, -2.2), (-0.075, -1.5), (-0.07, -1.0),
          (-0.065, -1.3), (-0.06, -0.85), (-0.055, -1.1), (-0.05, -0.6), (-0.045, -0.9), (-0.04, -0.4),
          (-0.035, -0.7), (-0.03, -0.2), (-0.025, -0.5), (-0.02, 0.05), (-0.015, -0.3), (-0.01, 0.3), (-0.005, 0.5),
          (-0.12, -0.85), (-0.06, -1.6),
          (0.77, 0.25), (0.775, 0.45), (0.78, 0.15), (0.785, 0.6), (0.79, 0.35), (0.795, 0.75), (0.8, 0.5),
          (0.805, 0.3), (0.81, 0.85), (0.815, 0.6), (0.82, 1.0), (0.825, 0.45), (0.83, 0.75), (0.835, 1.1),
          (0.84, 0.55), (0.845, 0.9), (0.85, 1.25), (0.855, 0.7), (0.86, 1.05), (0.865, 1.4), (0.87, 0.85),
          (0.875, 1.2), (0.88, 1.55), (0.885, 1.0), (0.89, 0.5), (0.895, 1.35), (0.9, 1.7), (0.905, 1.15),
          (0.91, 1.5), (0.915, 1.8), (0.92, 1.3), (0.8, 0.2)]
p3_train_x = [-0.944, -0.934, -0.718, -0.343, -0.324, -0.301, -0.298, -0.328, 0.005, 0.029, 0.099, 0.149, 0.161,
              0.285, 0.326, 0.348, 0.405, 0.493, 0.559, 0.583, 0.630, 0.662, 0.701, 0.731]
p3_train_y = [-0.98, -1.03, 0.19, -0.80, -0.72, -0.62, -0.62, -0.90, 0.31, 0.87, 0.99, 1.01, 0.87, 0.63, 0.23, 0.15,
              -0.31, -1.07, -1.60, -1.03, 0.33, 0.94, 0.73, 0.08]

LINE_C = "#4c72b0"
BAND_C = "#1f77b4"
BLUE_C = "#1f77b4"
RED_C = "#d62728"
GREEN_C = "#2ca02c"


def draw(ax, band, mean, blue, red, gx, gy, title, tsize):
    band = np.array(band)
    ax.fill_between(band[:, 0], band[:, 1], band[:, 2], color=BAND_C, alpha=0.15, lw=0.8, zorder=1)
    b = np.array(blue)
    r = np.array(red)
    ax.scatter(b[:, 0], b[:, 1], s=30, color=BLUE_C, alpha=0.4, edgecolor="white", linewidth=0.5, zorder=2)
    ax.scatter(r[:, 0], r[:, 1], s=30, color=RED_C, alpha=0.35, edgecolor="white", linewidth=0.5, zorder=2)
    m = np.array(mean)
    ax.plot(m[:, 0], m[:, 1], color=LINE_C, lw=1.5, zorder=3)
    ax.scatter(gx, gy, s=34, color=GREEN_C, edgecolor="white", linewidth=0.6, zorder=4)
    ax.set_title(title, fontsize=tsize)
    ax.set_xlabel(r"$x$", fontsize=15, labelpad=1)
    ax.set_ylabel(r"$y(x)$", fontsize=15, labelpad=3)
    ax.tick_params(labelsize=9)


fig = plt.figure(figsize=(13.7, 3.73), dpi=100)
w, h, bot = 390 / 1370, 290 / 373, 53 / 373
ax1 = fig.add_axes([63 / 1370, bot, w, h])
ax2 = fig.add_axes([517 / 1370, bot, w, h])
ax3 = fig.add_axes([970 / 1370, bot, w, h])

draw(ax1, p1_band, p1_mean, p1_blue, p1_red, train_x, p1_train_y, p1_title, 14)
ax1.set_xlim(-11, 11)
ax1.set_ylim(-4.13, 3.9)
ax1.xaxis.set_major_locator(MultipleLocator(2.5))
ax1.yaxis.set_major_locator(MultipleLocator(1))

draw(ax2, p2_band, p2_mean, p2_blue, p2_red, train_x, p2_train_y, p2_title, 14)
ax2.set_xlim(-11, 11)
ax2.set_ylim(-2.84, 13.46)
ax2.xaxis.set_major_locator(MultipleLocator(2.5))
ax2.yaxis.set_major_locator(MultipleLocator(2))

draw(ax3, p3_band, p3_mean, p3_blue, p3_red, p3_train_x, p3_train_y, p3_title, 11.5)
ax3.set_xlim(-1.1, 1.1)
ax3.set_ylim(-3.14, 3.84)
ax3.xaxis.set_major_locator(MultipleLocator(0.25))
ax3.yaxis.set_major_locator(MultipleLocator(1))

fig.savefig("out.png", dpi=100)
